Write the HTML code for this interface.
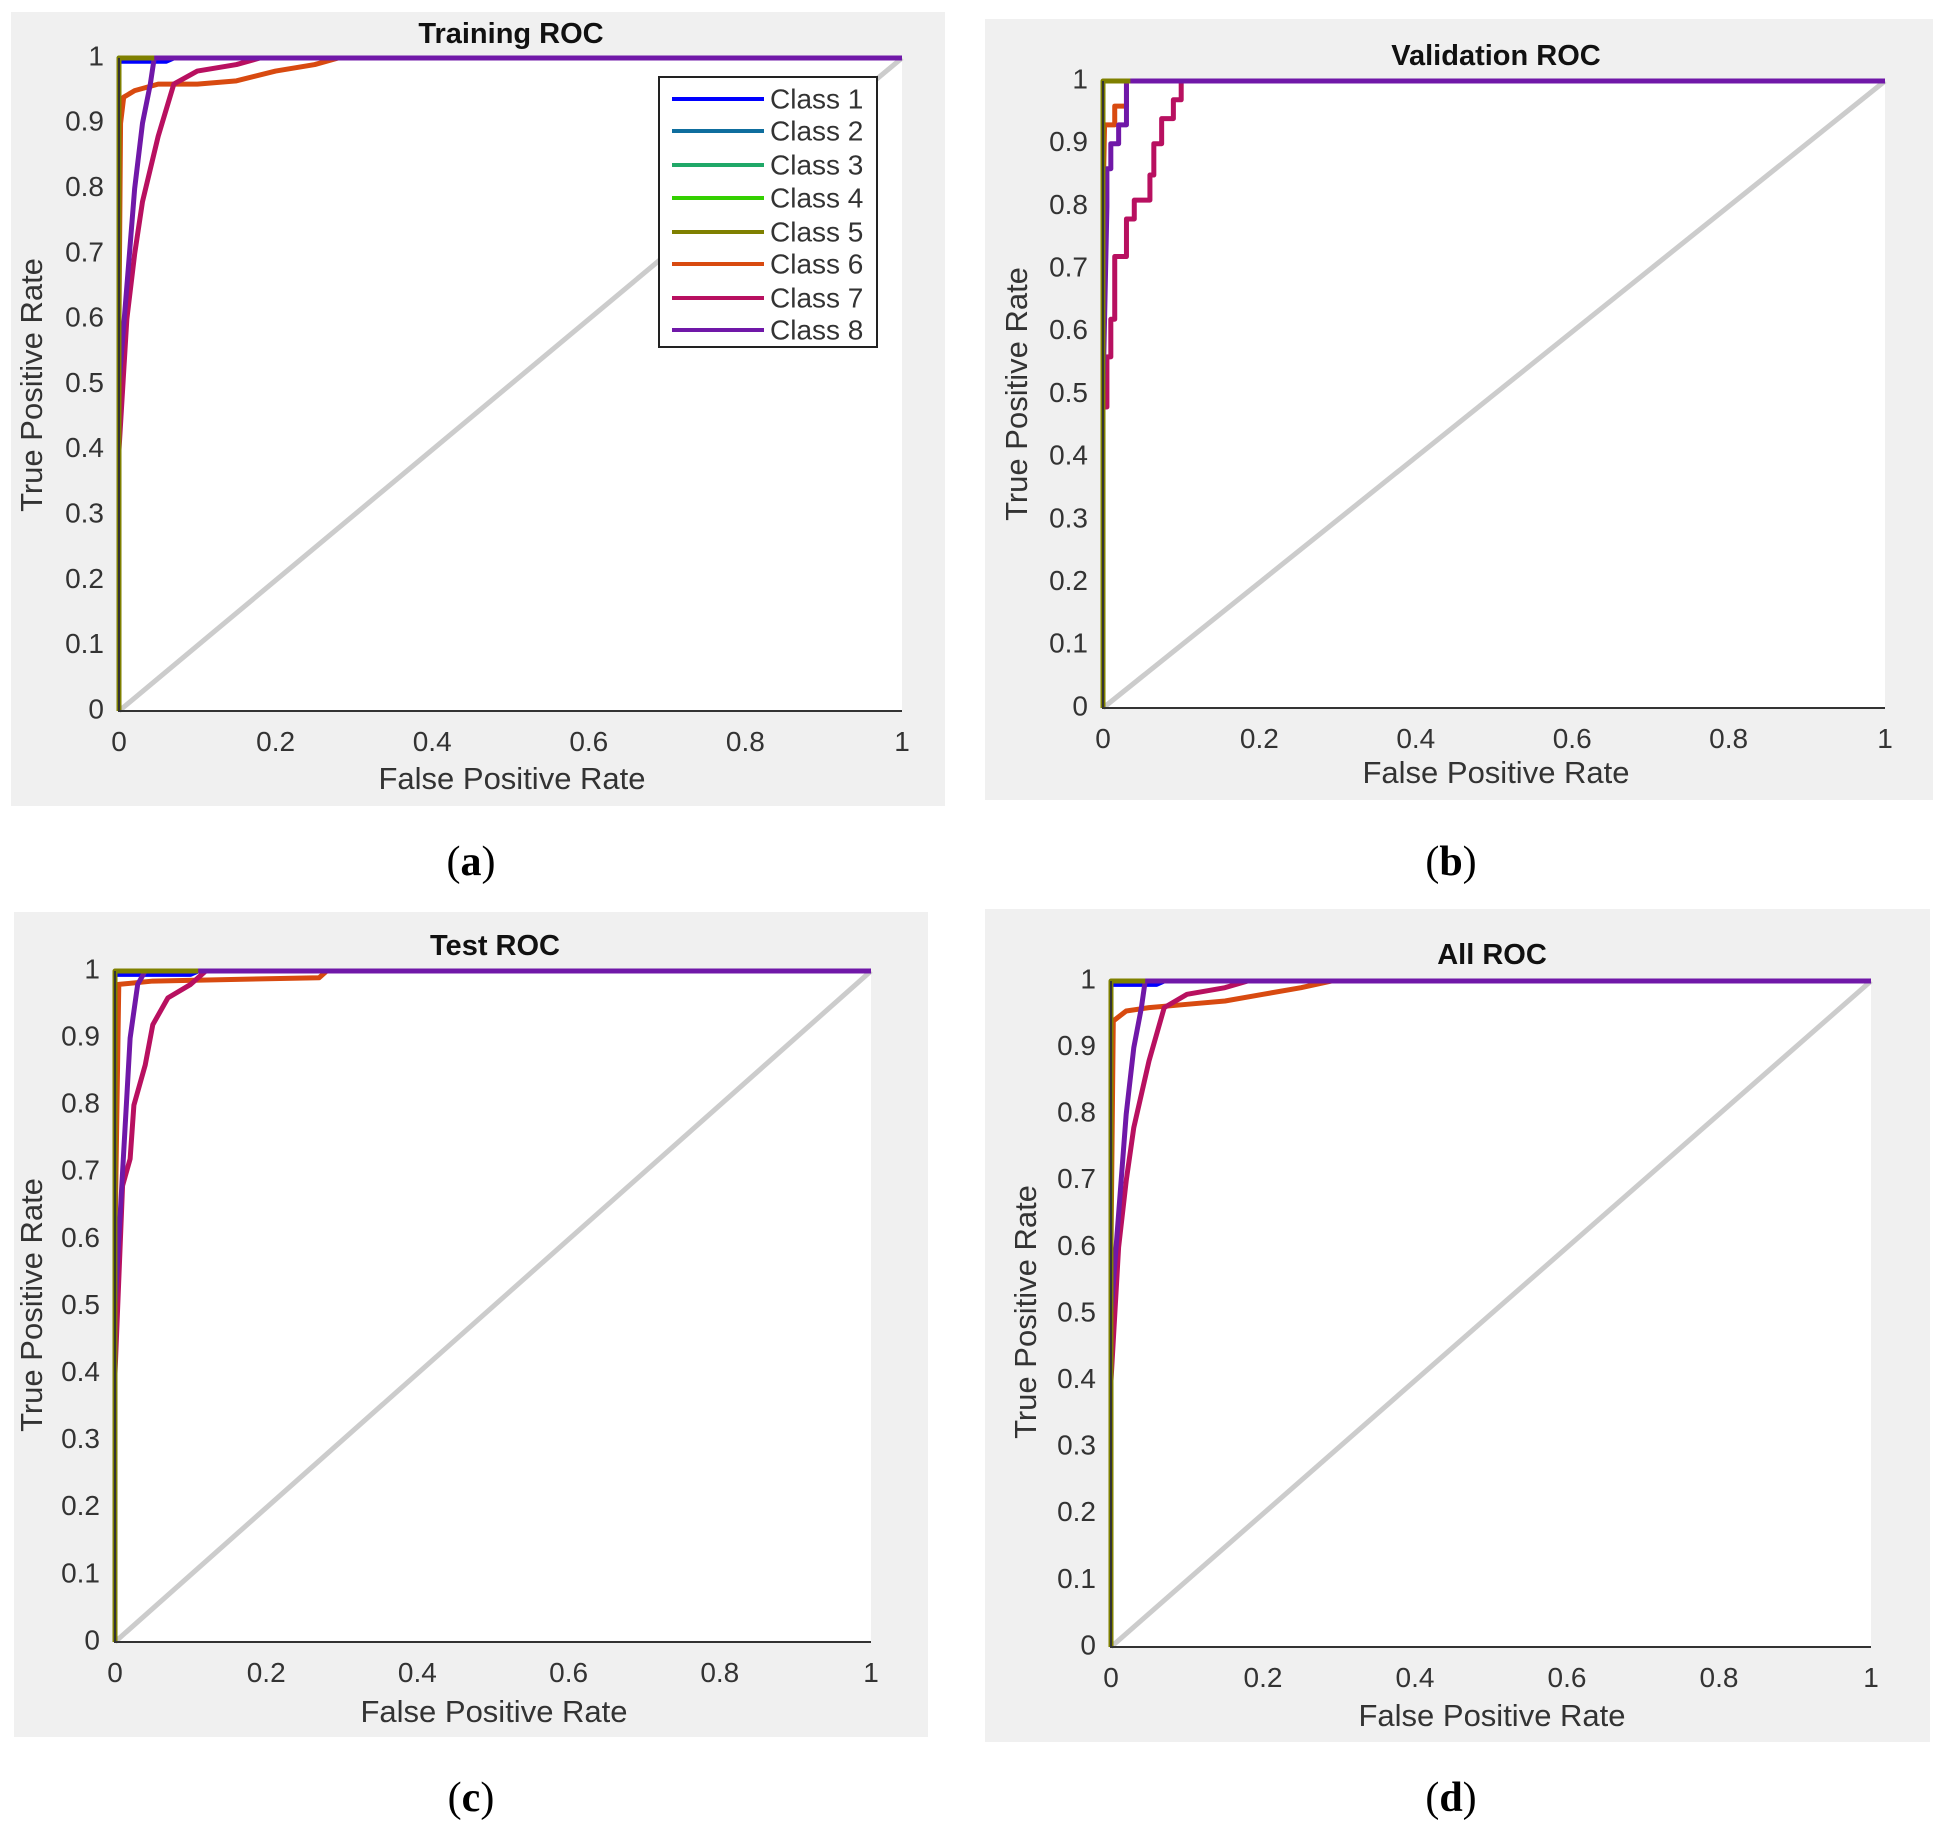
<!DOCTYPE html>
<html><head><meta charset="utf-8"><style>
body{margin:0;background:#fff}
svg{display:block}
.t{font-family:"Liberation Sans",sans-serif;font-size:28px;fill:#333}
.yt{text-anchor:end;dominant-baseline:middle}
.xt{text-anchor:middle}
.ti{font-family:"Liberation Sans",sans-serif;font-size:29px;font-weight:bold;fill:#111;text-anchor:middle}
.lab{font-family:"Liberation Sans",sans-serif;font-size:31px;fill:#333;text-anchor:middle}
.cap{font-family:"Liberation Serif",serif;font-size:42px;fill:#000;text-anchor:middle}
.c{fill:none;stroke-width:5;vector-effect:non-scaling-stroke;stroke-linejoin:round}
.ax{stroke:#333;stroke-width:2;fill:none}
</style></head><body>
<svg width="1945" height="1830" viewBox="0 0 1945 1830" xmlns="http://www.w3.org/2000/svg">
<rect width="1945" height="1830" fill="#fff"/>
<rect x="11" y="12" width="934" height="794" fill="#f0f0f0"/>
<rect x="985" y="19" width="948" height="781" fill="#f0f0f0"/>
<rect x="14" y="912" width="914" height="825" fill="#f0f0f0"/>
<rect x="985" y="909" width="945" height="833" fill="#f0f0f0"/>

<!-- Panel a -->
<g transform="translate(119,711)">
<rect x="0" y="-653" width="783" height="653" fill="#fff"/>
<g transform="scale(783,-653)">
<path class="c" stroke="#cccccc" d="M0,0L1,1"/>
<path class="c" stroke="#0000ff" d="M0,0L0,0.995L0.06,0.995L0.07,1L1,1"/>
<path class="c" stroke="#20a060" d="M0,0L0,1L0.03,1"/>
<path class="c" stroke="#d84a10" d="M0,0L0,0.6L0.002,0.9L0.006,0.94L0.02,0.95L0.05,0.96L0.1,0.96L0.15,0.965L0.2,0.98L0.25,0.99L0.28,1L1,1"/>
<path class="c" stroke="#b81060" d="M0,0L0,0.4L0.01,0.6L0.02,0.7L0.03,0.78L0.05,0.88L0.07,0.96L0.1,0.98L0.15,0.99L0.18,1L1,1"/>
<path class="c" stroke="#7018a8" d="M0,0L0,0.5L0.01,0.65L0.02,0.8L0.03,0.9L0.04,0.96L0.045,1L1,1"/>
<path class="c" stroke="#7f8000" d="M0,0L0,1L0.045,1"/>
</g>
<path class="ax" d="M0,-653V0H783"/>
<text class="t yt" x="-15" y="0">0</text><text class="t yt" x="-15" y="-65.3">0.1</text><text class="t yt" x="-15" y="-130.6">0.2</text><text class="t yt" x="-15" y="-195.9">0.3</text><text class="t yt" x="-15" y="-261.2">0.4</text><text class="t yt" x="-15" y="-326.5">0.5</text><text class="t yt" x="-15" y="-391.8">0.6</text><text class="t yt" x="-15" y="-457.1">0.7</text><text class="t yt" x="-15" y="-522.4">0.8</text><text class="t yt" x="-15" y="-587.7">0.9</text><text class="t yt" x="-15" y="-653">1</text>
<text class="t xt" x="0" y="40">0</text><text class="t xt" x="156.6" y="40">0.2</text><text class="t xt" x="313.2" y="40">0.4</text><text class="t xt" x="469.8" y="40">0.6</text><text class="t xt" x="626.4" y="40">0.8</text><text class="t xt" x="783" y="40">1</text>
</g>
<text class="ti" x="511" y="43">Training ROC</text>
<text class="lab" x="512" y="789">False Positive Rate</text>
<text class="lab" transform="translate(42,385) rotate(-90)">True Positive Rate</text>
<rect x="659" y="77" width="218" height="270" fill="#fff" stroke="#222" stroke-width="2"/>
<g stroke-width="4">
<line x1="672" x2="764" y1="99" y2="99" stroke="#0000ff"/>
<line x1="672" x2="764" y1="131" y2="131" stroke="#0f6e9e"/>
<line x1="672" x2="764" y1="165" y2="165" stroke="#20a868"/>
<line x1="672" x2="764" y1="198" y2="198" stroke="#33d000"/>
<line x1="672" x2="764" y1="232" y2="232" stroke="#7f8000"/>
<line x1="672" x2="764" y1="264" y2="264" stroke="#d84a10"/>
<line x1="672" x2="764" y1="298" y2="298" stroke="#b81060"/>
<line x1="672" x2="764" y1="330" y2="330" stroke="#7018a8"/>
</g>
<g class="t" style="dominant-baseline:middle">
<text x="770" y="101">Class 1</text><text x="770" y="133">Class 2</text><text x="770" y="167">Class 3</text><text x="770" y="200">Class 4</text><text x="770" y="234">Class 5</text><text x="770" y="266">Class 6</text><text x="770" y="300">Class 7</text><text x="770" y="332">Class 8</text>
</g>
<text class="cap" x="471" y="875">(<tspan font-weight="bold">a</tspan>)</text>

<!-- Panel b -->
<g transform="translate(1103,708)">
<rect x="0" y="-627" width="782" height="627" fill="#fff"/>
<g transform="scale(782,-627)">
<path class="c" stroke="#cccccc" d="M0,0L1,1"/>
<path class="c" stroke="#d84a10" d="M0,0L0,0.8L0.002,0.93L0.015,0.93L0.015,0.96L0.03,0.96L0.03,1L0.04,1"/>
<path class="c" stroke="#b81060" d="M0,0L0,0.48L0.005,0.48L0.005,0.56L0.01,0.56L0.01,0.62L0.015,0.62L0.015,0.72L0.03,0.72L0.03,0.78L0.04,0.78L0.04,0.81L0.06,0.81L0.06,0.85L0.065,0.85L0.065,0.9L0.075,0.9L0.075,0.94L0.09,0.94L0.09,0.97L0.1,0.97L0.1,1L1,1"/>
<path class="c" stroke="#7018a8" d="M0,0L0,0.5L0.005,0.8L0.005,0.86L0.01,0.86L0.01,0.9L0.02,0.9L0.02,0.93L0.03,0.93L0.03,1L1,1"/>
<path class="c" stroke="#7f8000" d="M0,0L0,1L0.035,1"/>
</g>
<path class="ax" d="M0,-627V0H782"/>
<text class="t yt" x="-15" y="0">0</text><text class="t yt" x="-15" y="-62.7">0.1</text><text class="t yt" x="-15" y="-125.4">0.2</text><text class="t yt" x="-15" y="-188.1">0.3</text><text class="t yt" x="-15" y="-250.8">0.4</text><text class="t yt" x="-15" y="-313.5">0.5</text><text class="t yt" x="-15" y="-376.2">0.6</text><text class="t yt" x="-15" y="-438.9">0.7</text><text class="t yt" x="-15" y="-501.6">0.8</text><text class="t yt" x="-15" y="-564.3">0.9</text><text class="t yt" x="-15" y="-627">1</text>
<text class="t xt" x="0" y="40">0</text><text class="t xt" x="156.4" y="40">0.2</text><text class="t xt" x="312.8" y="40">0.4</text><text class="t xt" x="469.2" y="40">0.6</text><text class="t xt" x="625.6" y="40">0.8</text><text class="t xt" x="782" y="40">1</text>
</g>
<text class="ti" x="1496" y="65">Validation ROC</text>
<text class="lab" x="1496" y="783">False Positive Rate</text>
<text class="lab" transform="translate(1027,394) rotate(-90)">True Positive Rate</text>
<text class="cap" x="1451" y="875">(<tspan font-weight="bold">b</tspan>)</text>

<!-- Panel c -->
<g transform="translate(115,1642)">
<rect x="0" y="-671" width="756" height="671" fill="#fff"/>
<g transform="scale(756,-671)">
<path class="c" stroke="#cccccc" d="M0,0L1,1"/>
<path class="c" stroke="#0000ff" d="M0,0L0,0.995L0.1,0.995L0.11,1L1,1"/>
<path class="c" stroke="#d84a10" d="M0,0L0,0.6L0.005,0.98L0.05,0.985L0.27,0.99L0.28,1"/>
<path class="c" stroke="#b81060" d="M0,0L0,0.4L0.01,0.68L0.02,0.72L0.025,0.8L0.04,0.86L0.05,0.92L0.07,0.96L0.1,0.98L0.12,1L1,1"/>
<path class="c" stroke="#7018a8" d="M0,0L0,0.5L0.01,0.7L0.02,0.9L0.03,0.98L0.04,1L1,1"/>
<path class="c" stroke="#7f8000" d="M0,0L0,1L0.11,1"/>
</g>
<path class="ax" d="M0,-671V0H756"/>
<text class="t yt" x="-15" y="0">0</text><text class="t yt" x="-15" y="-67.1">0.1</text><text class="t yt" x="-15" y="-134.2">0.2</text><text class="t yt" x="-15" y="-201.3">0.3</text><text class="t yt" x="-15" y="-268.4">0.4</text><text class="t yt" x="-15" y="-335.5">0.5</text><text class="t yt" x="-15" y="-402.6">0.6</text><text class="t yt" x="-15" y="-469.7">0.7</text><text class="t yt" x="-15" y="-536.8">0.8</text><text class="t yt" x="-15" y="-603.9">0.9</text><text class="t yt" x="-15" y="-671">1</text>
<text class="t xt" x="0" y="40">0</text><text class="t xt" x="151.2" y="40">0.2</text><text class="t xt" x="302.4" y="40">0.4</text><text class="t xt" x="453.6" y="40">0.6</text><text class="t xt" x="604.8" y="40">0.8</text><text class="t xt" x="756" y="40">1</text>
</g>
<text class="ti" x="495" y="955">Test ROC</text>
<text class="lab" x="494" y="1722">False Positive Rate</text>
<text class="lab" transform="translate(42,1305) rotate(-90)">True Positive Rate</text>
<text class="cap" x="471" y="1811">(<tspan font-weight="bold">c</tspan>)</text>

<!-- Panel d -->
<g transform="translate(1111,1647)">
<rect x="0" y="-666" width="760" height="666" fill="#fff"/>
<g transform="scale(760,-666)">
<path class="c" stroke="#cccccc" d="M0,0L1,1"/>
<path class="c" stroke="#0000ff" d="M0,0L0,0.995L0.06,0.995L0.07,1L1,1"/>
<path class="c" stroke="#d84a10" d="M0,0L0,0.6L0.003,0.94L0.02,0.955L0.05,0.96L0.1,0.965L0.15,0.97L0.2,0.98L0.25,0.99L0.29,1L1,1"/>
<path class="c" stroke="#b81060" d="M0,0L0,0.4L0.01,0.6L0.02,0.7L0.03,0.78L0.05,0.88L0.07,0.96L0.1,0.98L0.15,0.99L0.18,1L1,1"/>
<path class="c" stroke="#7018a8" d="M0,0L0,0.5L0.01,0.65L0.02,0.8L0.03,0.9L0.04,0.96L0.045,1L1,1"/>
<path class="c" stroke="#7f8000" d="M0,0L0,1L0.045,1"/>
</g>
<path class="ax" d="M0,-666V0H760"/>
<text class="t yt" x="-15" y="0">0</text><text class="t yt" x="-15" y="-66.6">0.1</text><text class="t yt" x="-15" y="-133.2">0.2</text><text class="t yt" x="-15" y="-199.8">0.3</text><text class="t yt" x="-15" y="-266.4">0.4</text><text class="t yt" x="-15" y="-333">0.5</text><text class="t yt" x="-15" y="-399.6">0.6</text><text class="t yt" x="-15" y="-466.2">0.7</text><text class="t yt" x="-15" y="-532.8">0.8</text><text class="t yt" x="-15" y="-599.4">0.9</text><text class="t yt" x="-15" y="-666">1</text>
<text class="t xt" x="0" y="40">0</text><text class="t xt" x="152" y="40">0.2</text><text class="t xt" x="304" y="40">0.4</text><text class="t xt" x="456" y="40">0.6</text><text class="t xt" x="608" y="40">0.8</text><text class="t xt" x="760" y="40">1</text>
</g>
<text class="ti" x="1492" y="964">All ROC</text>
<text class="lab" x="1492" y="1726">False Positive Rate</text>
<text class="lab" transform="translate(1036,1312) rotate(-90)">True Positive Rate</text>
<text class="cap" x="1451" y="1811">(<tspan font-weight="bold">d</tspan>)</text>
</svg>
</body></html>
